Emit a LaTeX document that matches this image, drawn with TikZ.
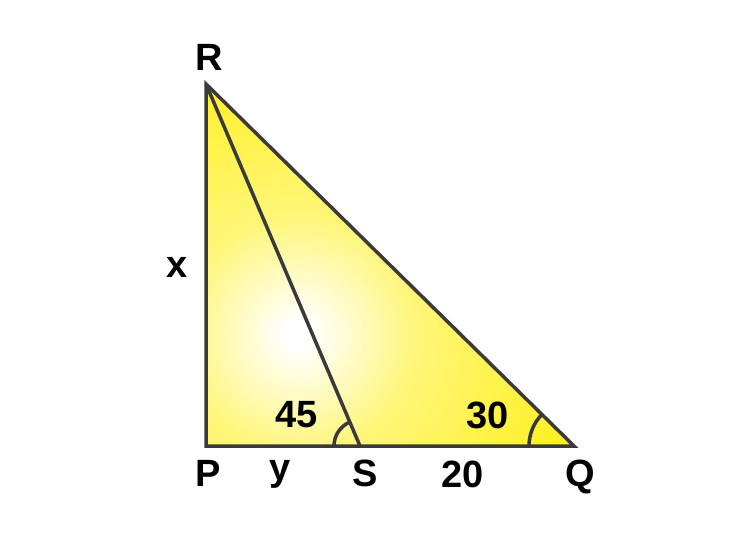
\documentclass[tikz,border=0pt]{standalone}
\usepackage{fontspec}
\setmainfont{Liberation Sans}
\definecolor{yel}{RGB}{255,238,10}
\definecolor{edge}{RGB}{58,58,58}
\pgfdeclareradialshading{glow}{\pgfpoint{0bp}{0bp}}{color(0bp)=(white); color(1bp)=(white); color(9bp)=(white!45!yel); color(25bp)=(yel); color(50bp)=(yel)}
\begin{document}
\begin{tikzpicture}[x=1pt,y=-1pt,
  edgeline/.style={draw=edge,line width=3.5pt},
  lab/.style={anchor=base,inner sep=0pt,font=\fontsize{38}{40}\selectfont\bfseries}]
\useasboundingbox (0,0) rectangle (750,542);
\coordinate (R) at (206,84);
\coordinate (P) at (206,446);
\coordinate (S) at (360,446);
\coordinate (Q) at (574,446);
\begin{scope}
  \clip (R) -- (P) -- (Q) -- cycle;
  \shade[shading=glow] (298,335) circle (330);
\end{scope}
\draw[edgeline] (R) -- (P) -- (Q) -- cycle;
\draw[edgeline] (R) -- (S);
\draw[edgeline] ([xshift=-26pt]S) arc[start angle=180,end angle=247,radius=26];
\draw[edgeline] ([xshift=-45pt]Q) arc[start angle=180,end angle=224.5,radius=45];
\node[lab] (lR) at (209,70) {R};
\node[lab] (lP) at (208,486) {P};
\node[lab] (ly) at (280,480) {y};
\node[lab] (lS) at (365,486) {S};
\node[lab] (l20) at (463,487) {20};
\node[lab] (lQ) at (580,486) {Q};
\node[lab] (l45) at (297,427) {45};
\node[lab] (l30) at (488,428) {30};
\node[lab] (lx) at (177,277) {x};
\end{tikzpicture}
\end{document}
